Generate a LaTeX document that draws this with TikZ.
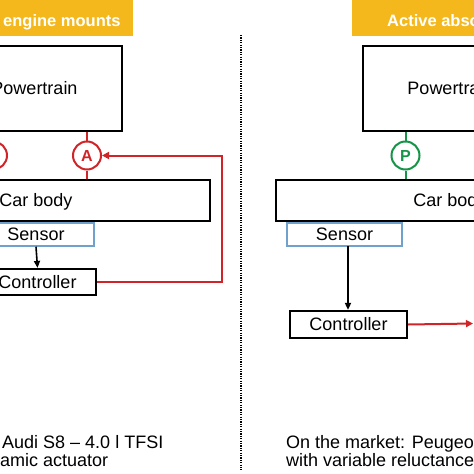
\documentclass[tikz,border=0pt]{standalone}
\usepackage{fontspec}
\setmainfont{Liberation Sans}
\usetikzlibrary{arrows.meta}
\definecolor{bannery}{RGB}{244,184,28}
\definecolor{redline}{RGB}{208,36,40}
\definecolor{greenline}{RGB}{22,148,72}
\definecolor{sensorblue}{RGB}{112,160,204}
\begin{document}
\begin{tikzpicture}[x=1pt,y=-1pt,
  font=\fontsize{18}{18}\selectfont,
  box/.style={draw=black, line width=2.2pt, inner sep=0pt, text height=12.9pt, text depth=0pt},
  sensorbox/.style={draw=sensorblue, line width=1.5pt, inner sep=0pt, text height=12.9pt, text depth=0pt},
  actcircle/.style={circle, draw=redline, line width=2pt, minimum size=28pt, inner sep=0pt,
    text=redline, font=\fontsize{16}{16}\selectfont\bfseries, text height=11.5pt, text depth=0pt},
  passcircle/.style={actcircle, draw=greenline, text=greenline},
  bannerbox/.style={fill=bannery, draw=none, inner sep=0pt, minimum height=36pt},
  bannertext/.style={text=white, font=\fontsize{16.5}{16.5}\selectfont\bfseries, inner sep=0pt},
  redstem/.style={draw=redline, line width=2pt},
  greenstem/.style={draw=greenline, line width=2pt},
  redarrow/.style={draw=redline, line width=2pt, -{Triangle[length=7pt,width=7pt]}},
  blackarrow/.style={draw=black, line width=1.6pt, -{Triangle[length=7pt,width=6pt]}},
  divider/.style={draw=black, line width=1.6pt, dash pattern=on 1.2pt off 1.2pt},
  caption/.style={inner sep=0pt, anchor=base west}
]
\useasboundingbox (0,0) rectangle (474,474);
\clip (0,0) rectangle (474,474);

% ---------- left panel ----------
\node[bannerbox, minimum width=150pt, anchor=north east] (banL) at (133,0) {};
\node[bannertext, anchor=base west] (banLt) at (3,26) {engine mounts};

\node[box, minimum width=175pt, minimum height=85pt] (ptL) at (34.5,88.5) {Powertrain};
\node[box, minimum width=348pt, minimum height=41pt] (cbL) at (36,200.5) {Car body};
\node[sensorbox, minimum width=116pt, minimum height=23pt] (senL) at (36,234.5) {Sensor};
\node[box, minimum width=117pt, minimum height=26pt] (ctrlL) at (37.5,282) {Controller};

\node[actcircle] (a0) at (-7,155.5) {};
\node[actcircle] (a1) at (87,155.5) {A};
\draw[redstem] (a1.north) -- (a1.north |- ptL.south);
\draw[redstem] (a1.south) -- (a1.south |- cbL.north);

\draw[blackarrow] (senL.south) -- (ctrlL.north);
\coordinate (fbL) at (222,155.5);
\draw[redarrow] (ctrlL.east) -| (fbL) -- (a1.east);

\node[caption] (capL1) at (2,448) {Audi S8 – 4.0 l TFSI};
\node[caption] (capL2) at (0,466) {amic actuator};

% ---------- divider ----------
\coordinate (divT) at (241,35);
\coordinate (divB) at (241,470);
\draw[divider] (divT) -- (divB);

% ---------- right panel ----------
\node[bannerbox, minimum width=150pt, anchor=north west] (banR) at (352,0) {};
\node[bannertext, anchor=base west] (banRt) at (387,26) {Active absorbers};

\node[box, minimum width=175pt, minimum height=85pt] (ptR) at (450.5,88.5) {Powertrain};
\node[box, minimum width=348pt, minimum height=41pt] (cbR) at (450,200.5) {Car body};
\node[sensorbox, minimum width=115pt, minimum height=23pt] (senR) at (344.5,234.5) {Sensor};
\node[box, minimum width=117pt, minimum height=27pt] (ctrlR) at (348.5,324.5) {Controller};

\node[passcircle] (p1) at (405.5,155.5) {P};
\draw[greenstem] (p1.north) -- (p1.north |- ptR.south);
\draw[greenstem] (p1.south) -- (p1.south |- cbR.north);

\coordinate (senRout) at (348,246);
\draw[blackarrow] (senRout) -- (senRout |- ctrlR.north);
\coordinate (outR) at (473,323.5);
\draw[redarrow] (ctrlR.east) -- (outR);

\node[caption] (capR1) at (286,448) {On the market: Peugeot};
\node[caption] (capR2) at (286,466) {with variable reluctance};
\end{tikzpicture}
\end{document}
